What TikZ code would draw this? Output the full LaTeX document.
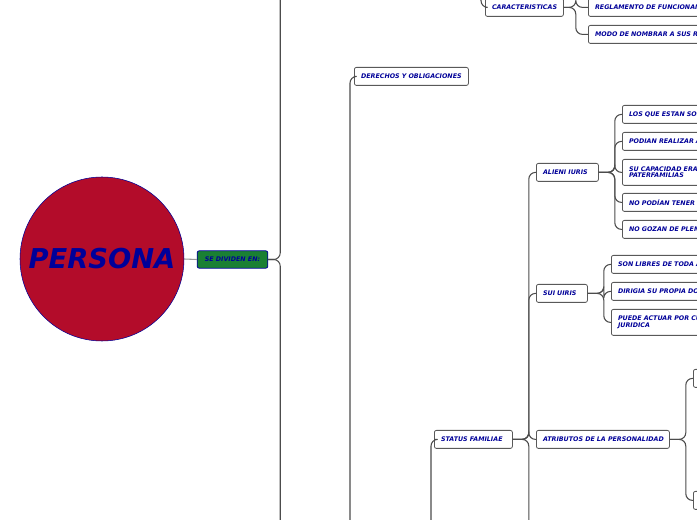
\documentclass[tikz,border=0pt]{standalone}
\usepackage{fontspec}
\setmainfont{DejaVu Sans}
\begin{document}
\begin{tikzpicture}[x=0.75pt,y=-0.75pt,
  box/.style={draw=black!65,fill=white,rounded corners=1.5pt,line width=0.6pt,anchor=north west,
    inner xsep=5pt,inner ysep=0pt,align=left,font=\fontsize{4.75}{4.75}\selectfont\bfseries\itshape,text=blue!60!black},
  conn/.style={draw=black!70,line width=0.8pt,rounded corners=5pt}]
\clip (0,0) rectangle (697,520);
\useasboundingbox (0,0) rectangle (697,520);
\fill[white] (0,0) rectangle (697,520);
\newcommand\bx[6]{\node[box,minimum width=#4*0.75pt,minimum height=#5*0.75pt,text width=#4*0.75pt-10pt] (#1) at (#2,#3) {#6};}
% circle
\node[circle,draw=blue!60!black,fill={rgb,255:red,179;green,12;blue,42},minimum size=123pt,inner sep=0pt,
  font=\fontsize{20.5}{20.5}\selectfont\bfseries\itshape,text=blue!60!black] (per) at (102,259) {PERSONA};
\node[draw=blue!60!black,fill={rgb,255:red,26;green,128;blue,51},rounded corners=1.5pt,line width=0.6pt,
  minimum width=53pt,minimum height=13pt,inner sep=0pt,font=\fontsize{4.75}{4.75}\selectfont\bfseries\itshape,text=blue!60!black] (sd) at (232.5,259.5) {SE DIVIDEN EN:};
\draw[draw=black!40,line width=0.8pt] (per.east) -- (sd.west);
\coordinate (top1) at (285,-20);
\coordinate (bot1) at (285,540);
\draw[conn] (sd.east) -- ++(12,0) |- (top1);
\draw[conn] (sd.east) -- ++(12,0) |- (bot1);
% nodes
\bx{car}{485}{-2}{78}{18}{\mbox{CARACTERISTICAS}}
\bx{reg}{588}{-2}{130}{18}{\mbox{REGLAMENTO DE FUNCIONAM}}
\bx{modo}{588}{25}{130}{18}{\mbox{MODO DE NOMBRAR A SUS RE}}
\bx{der}{354}{67}{114}{18}{\mbox{DERECHOS Y OBLIGACIONES}}
\bx{ali}{536}{163}{62}{18}{\mbox{ALIENI IURIS}}
\bx{a1}{622}{105}{100}{18}{\mbox{LOS QUE ESTAN SOM}}
\bx{a2}{622}{132}{100}{18}{\mbox{PODIAN REALIZAR A}}
\bx{a3}{622}{159}{100}{26}{SU CAPACIDAD ERA\\PATERFAMILIAS}
\bx{a4}{622}{193}{100}{18}{\mbox{NO PODÍAN TENER I}}
\bx{a5}{622}{220}{100}{18}{\mbox{NO GOZAN DE PLEN}}
\bx{sui}{536}{284}{51}{18}{\mbox{SUI UIRIS}}
\bx{s1}{611}{255}{110}{18}{\mbox{SON LIBRES DE TODA A}}
\bx{s2}{611}{282}{110}{18}{\mbox{DIRIGIA SU PROPIA DO}}
\bx{s3}{611}{309}{110}{26}{PUEDE ACTUAR POR CU\\JURIDICA}
\bx{sta}{434}{430}{78}{18}{\mbox{STATUS FAMILIAE}}
\bx{atr}{536}{430}{133}{18}{\mbox{ATRIBUTOS DE LA PERSONALIDAD}}
\bx{t1}{693}{369}{40}{18}{}
\bx{t2}{693}{491}{40}{18}{}
% connectors
\coordinate (c0) at (481,-30);
\draw[conn] (c0) |- (car.west);
\foreach \c in {reg,modo} \draw[conn] (car.east) -- ++(12,0) |- (\c.west);
\coordinate (d0) at (350,540);
\draw[conn] (d0) |- (der.west);
\coordinate (e0) at (431,540);
\draw[conn] (e0) |- (sta.west);
\coordinate (f0) at (528,540);
\foreach \c in {ali,sui,atr} \draw[conn] (sta.east) -- ++(16,0) |- (\c.west);
\draw[conn] (sta.east) -- ++(16,0) |- (f0);
\foreach \c in {a1,a2,a3,a4,a5} \draw[conn] (ali.east) -- ++(16,0) |- (\c.west);
\foreach \c in {s1,s2,s3} \draw[conn] (sui.east) -- ++(16,0) |- (\c.west);
\foreach \c in {t1,t2} \draw[conn] (atr.east) -- ++(16,0) |- (\c.west);
\end{tikzpicture}
\end{document}
